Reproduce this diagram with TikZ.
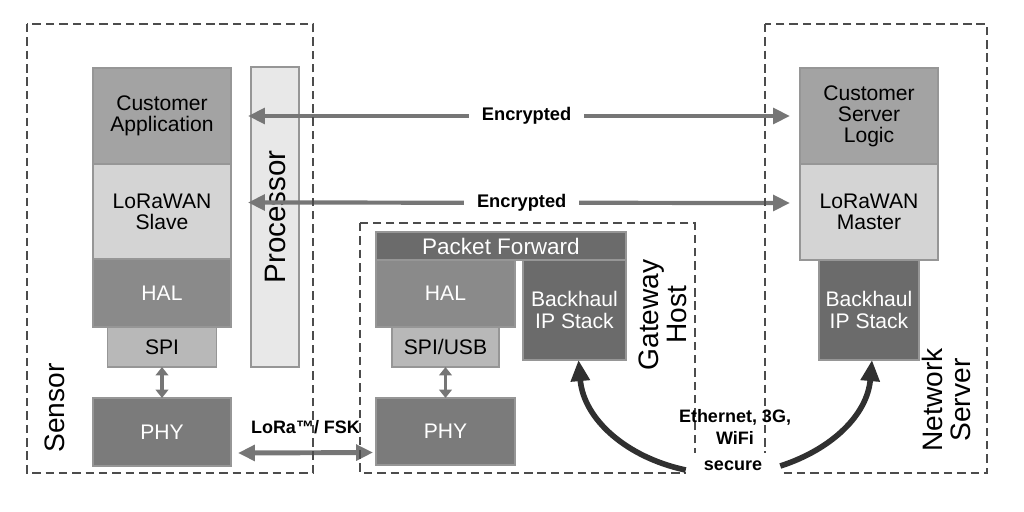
\documentclass[tikz,border=0pt]{standalone}
\usepackage{fontspec}
\setmainfont{Liberation Sans}
\usetikzlibrary{arrows.meta,positioning}
\definecolor{appgray}{RGB}{163,163,163}
\definecolor{macgray}{RGB}{212,212,212}
\definecolor{halgray}{RGB}{138,138,138}
\definecolor{spigray}{RGB}{184,184,184}
\definecolor{phygray}{RGB}{123,123,123}
\definecolor{fwdgray}{RGB}{107,107,107}
\definecolor{procgray}{RGB}{232,232,232}
\definecolor{edgegray}{RGB}{150,150,150}
\definecolor{arrgray}{RGB}{118,118,118}
\definecolor{linkdark}{RGB}{48,48,48}
\newcommand{\pxu}{0.025cm}
\newcommand{\lyrfont}{\fontsize{15}{15}\selectfont}

\begin{document}
\begin{tikzpicture}[x=\pxu, y=-\pxu, node distance=0pt,
  layer/.style n args={3}{draw=edgegray, line width=0.8pt, fill=#1, outer sep=0pt,
              inner sep=0pt, align=center, font=\lyrfont,
              minimum width=#2*\pxu, minimum height=#3*\pxu},
  grp/.style={draw=black!70, line width=1.8pt, dash pattern=on 6pt off 3.5pt},
  grplbl/.style={font=\fontsize{20}{20}\selectfont, align=center, inner sep=0pt},
  enc/.style={{Triangle[length=12pt, width=11pt]}-{Triangle[length=12pt, width=11pt]},
              line width=3pt, draw=arrgray, fill=arrgray},
  enctxt/.style={fill=white, font=\bfseries\fontsize{13}{14}\selectfont,
              inner xsep=9pt, inner ysep=3pt},
  updn/.style={{Triangle[length=6pt, width=9pt]}-{Triangle[length=6pt, width=9pt]},
              line width=2.5pt, draw=arrgray, fill=arrgray},
  link/.style={-{Triangle[length=15pt, width=13pt]}, line width=4pt, draw=linkdark},
  linktxt/.style={font=\bfseries\fontsize{12.8}{15}\selectfont, align=center}]
  \useasboundingbox (0,0) rectangle (1024,512);

  % sensor stack
  \node[layer={appgray}{138}{96}, anchor=north west] (ca) at (93,68) {Customer\\Application};
  \node[layer={macgray}{138}{95}, below=of ca] (sl) {LoRaWAN\\Slave};
  \node[layer={halgray}{138}{68}, below=of sl, text=white] (shal) {HAL};
  \node[layer={spigray}{109}{40}, below=of shal] (sspi) {SPI};
  \node[layer={phygray}{138}{68}, below=0.775cm of sspi, text=white] (sphy) {PHY};
  \node[layer={procgray}{300}{48}, rotate=90, font=\fontsize{21}{21}\selectfont] (proc) at (275,217) {Processor};

  % gateway stack
  \node[layer={fwdgray}{250}{28}, anchor=north west, text=white, font=\fontsize{16}{16}\selectfont] (pf) at (376,232) {Packet Forward};
  \node[layer={halgray}{139}{67}, anchor=north west, text=white] (ghal) at (pf.south west) {HAL};
  \node[layer={spigray}{107}{40}, below=of ghal] (gspi) {SPI/USB};
  \node[layer={fwdgray}{103}{100}, anchor=north east, text=white] (gbh) at (pf.south east) {Backhaul\\IP Stack};
  \node[layer={phygray}{139}{67}, below=0.775cm of gspi, text=white] (gphy) {PHY};

  % network server stack
  \node[layer={appgray}{138}{96}, anchor=north west] (csl) at (800,68) {Customer\\Server\\Logic};
  \node[layer={macgray}{138}{96}, below=of csl] (lm) {LoRaWAN\\Master};
  \node[layer={fwdgray}{100}{100}, below=of lm, text=white] (nbh) {Backhaul\\IP Stack};

  % end to end links
  \draw[enc] ([xshift=-0.075cm]proc.north |- ca.east) -- ([xshift=-0.25cm]csl.west)
    node[enctxt, pos=0.514] {Encrypted};
  \draw[enc] ([xshift=-0.075cm, yshift=0.225cm]proc.north |- sl.east) -- ([xshift=-0.25cm, yshift=0.225cm]lm.west)
    node[enctxt, pos=0.505] {Encrypted};
  \draw[enc, line width=3.5pt] ([xshift=0.175cm, yshift=-0.525cm]sphy.east) -- ([xshift=-0.075cm, yshift=-0.525cm]gphy.west)
    node[linktxt, midway, above=0.3cm] {LoRa™/ FSK};
  \draw[updn] (sspi.south) -- (sphy.north);
  \draw[updn] (gspi.south) -- (gphy.north);

  % groups
  \draw[grp] (27,24) rectangle (313,473);
  \draw[grp] (360,223) rectangle (695,473);
  \draw[grp] (765,24) rectangle (987,473);
  \node[grplbl, rotate=90] (sens) at (55,408) {Sensor};
  \node[grplbl, rotate=90] (gwh) at (663,315) {Gateway\\Host};
  \node[grplbl, rotate=90] (nsrv) at (946,400) {Network\\Server};

  % backhaul
  \node[linktxt] (eth) at (735,427) {Ethernet, 3G,\\WiFi};
  \node[linktxt, fill=white, inner xsep=0.45cm, inner ysep=0.2cm] (sec) at (733,466) {secure};
  \draw[link] ([yshift=-0.1cm]sec.west) to[out=168, in=-85] ([xshift=0.1cm]gbh.south);
  \draw[link] (sec.east) to[out=18, in=-95] ([xshift=0.075cm]nbh.south);
\end{tikzpicture}
\end{document}
